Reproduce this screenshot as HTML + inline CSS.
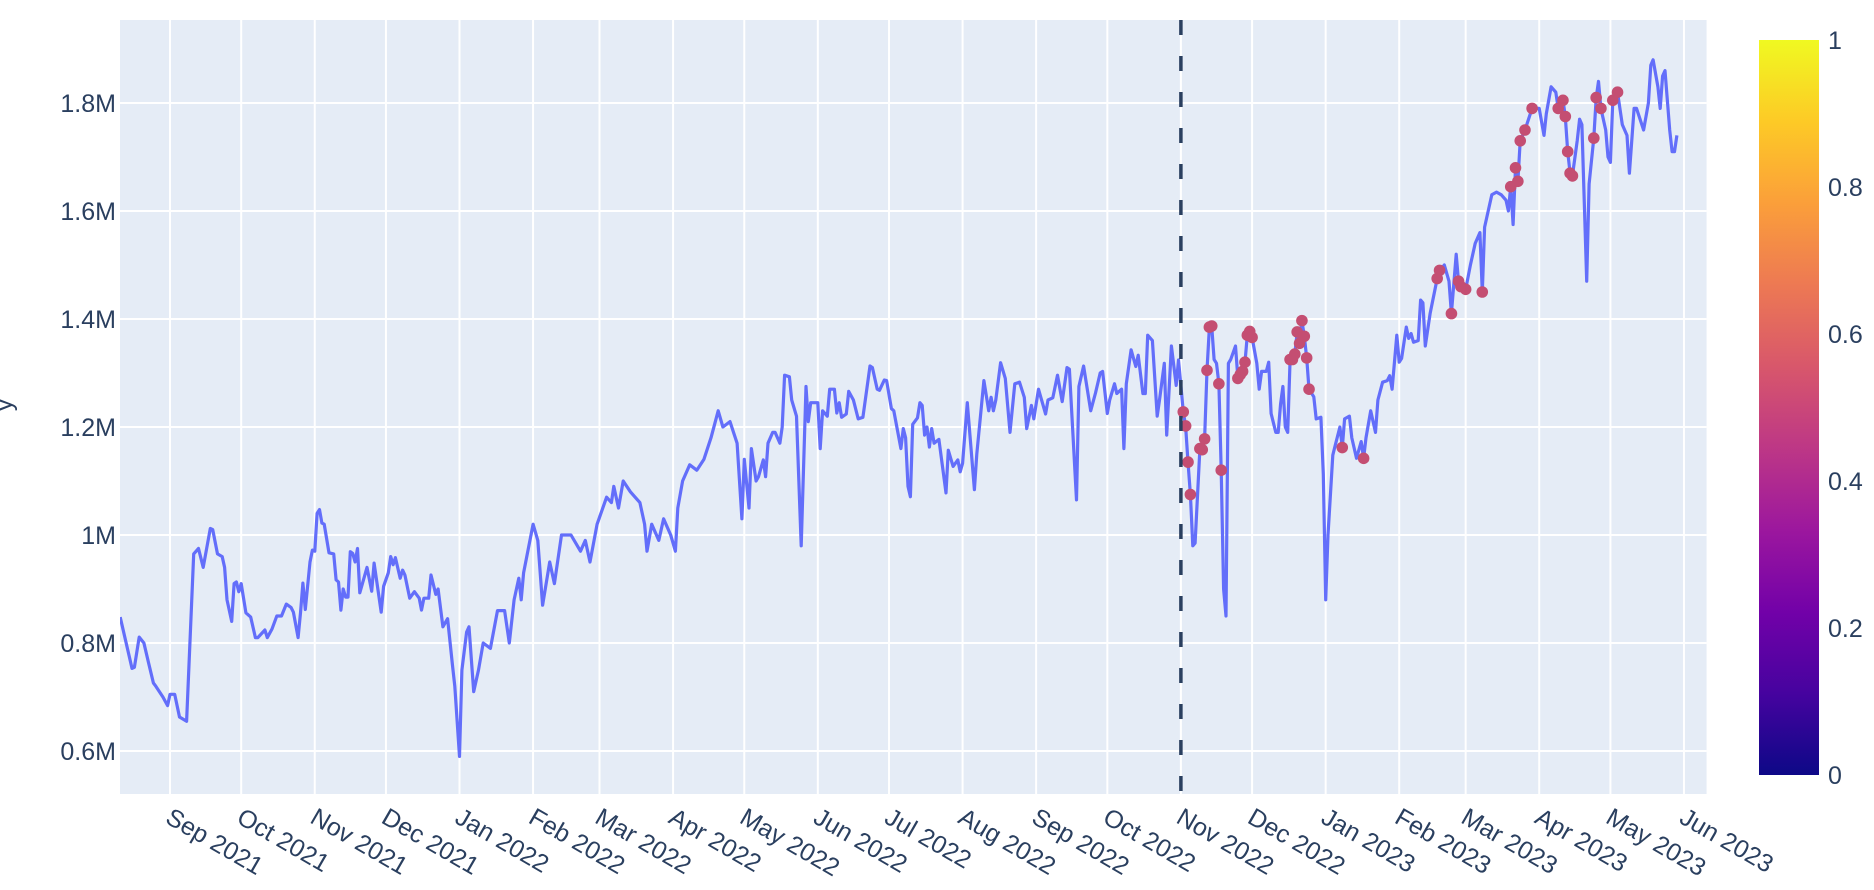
<!DOCTYPE html>
<html><head><meta charset="utf-8">
<style>
html,body{margin:0;padding:0;background:#fff;}
svg{display:block;font-family:"Liberation Sans",sans-serif;}
</style></head>
<body>
<svg id="chart" width="1874" height="890" viewBox="0 0 1874 890" xmlns="http://www.w3.org/2000/svg">
<defs>
<linearGradient id="plasma" x1="0" y1="1" x2="0" y2="0">
<stop offset="0" stop-color="#0d0887"/><stop offset="0.111" stop-color="#46039f"/><stop offset="0.222" stop-color="#7201a8"/><stop offset="0.333" stop-color="#9c179e"/><stop offset="0.444" stop-color="#bd3786"/><stop offset="0.556" stop-color="#d8576b"/><stop offset="0.667" stop-color="#ed7953"/><stop offset="0.778" stop-color="#fb9f3a"/><stop offset="0.889" stop-color="#fdca26"/><stop offset="1" stop-color="#f0f921"/>
</linearGradient>
<clipPath id="plotclip"><rect x="120" y="20" width="1586.6" height="774"/></clipPath>
</defs>
<rect x="120" y="20" width="1586.6" height="774" fill="#e5ecf6"/>
<g id="grid"></g>
<g id="yticks"></g>
<g id="xticks"></g>
<g clip-path="url(#plotclip)">
<path id="line" fill="none" stroke="#636efa" stroke-width="3.2" stroke-linejoin="round"/>
<g id="dots"></g>
<line id="vline" y1="20" y2="794" stroke="#2a3f5f" stroke-width="3.5" stroke-dasharray="15,21"/>
</g>
<text transform="translate(12,405) rotate(-90)" text-anchor="middle" font-size="25" fill="#2a3f5f">y</text>
<rect x="1759" y="40" width="60" height="735" fill="url(#plasma)"/>
<g id="cbticks"></g>
</svg>
<script>
const lineDates=["2021-08-11","2021-08-16","2021-08-17","2021-08-19","2021-08-21","2021-08-23","2021-08-25","2021-08-26","2021-08-29","2021-08-31","2021-09-01","2021-09-03","2021-09-05","2021-09-08","2021-09-11","2021-09-13","2021-09-15","2021-09-18","2021-09-19","2021-09-21","2021-09-23","2021-09-24","2021-09-25","2021-09-27","2021-09-28","2021-09-29","2021-09-30","2021-10-01","2021-10-03","2021-10-05","2021-10-07","2021-10-08","2021-10-11","2021-10-12","2021-10-14","2021-10-16","2021-10-18","2021-10-20","2021-10-22","2021-10-23","2021-10-25","2021-10-26","2021-10-27","2021-10-28","2021-10-30","2021-10-31","2021-11-01","2021-11-02","2021-11-03","2021-11-04","2021-11-05","2021-11-07","2021-11-09","2021-11-10","2021-11-11","2021-11-12","2021-11-13","2021-11-14","2021-11-15","2021-11-16","2021-11-17","2021-11-18","2021-11-19","2021-11-20","2021-11-23","2021-11-25","2021-11-26","2021-11-29","2021-11-30","2021-12-02","2021-12-03","2021-12-04","2021-12-05","2021-12-07","2021-12-08","2021-12-09","2021-12-11","2021-12-13","2021-12-15","2021-12-16","2021-12-17","2021-12-19","2021-12-20","2021-12-22","2021-12-23","2021-12-25","2021-12-27","2021-12-29","2021-12-30","2022-01-01","2022-01-02","2022-01-04","2022-01-05","2022-01-07","2022-01-09","2022-01-11","2022-01-14","2022-01-17","2022-01-20","2022-01-22","2022-01-24","2022-01-26","2022-01-27","2022-01-28","2022-02-01","2022-02-03","2022-02-05","2022-02-08","2022-02-10","2022-02-13","2022-02-17","2022-02-21","2022-02-23","2022-02-25","2022-02-28","2022-03-04","2022-03-06","2022-03-07","2022-03-09","2022-03-11","2022-03-14","2022-03-18","2022-03-20","2022-03-21","2022-03-23","2022-03-26","2022-03-28","2022-03-31","2022-04-02","2022-04-03","2022-04-05","2022-04-08","2022-04-11","2022-04-14","2022-04-17","2022-04-20","2022-04-22","2022-04-25","2022-04-28","2022-04-30","2022-05-01","2022-05-03","2022-05-04","2022-05-06","2022-05-07","2022-05-09","2022-05-10","2022-05-11","2022-05-13","2022-05-14","2022-05-16","2022-05-17","2022-05-18","2022-05-20","2022-05-21","2022-05-23","2022-05-25","2022-05-27","2022-05-28","2022-05-29","2022-06-01","2022-06-02","2022-06-03","2022-06-05","2022-06-06","2022-06-08","2022-06-09","2022-06-10","2022-06-11","2022-06-13","2022-06-14","2022-06-16","2022-06-18","2022-06-20","2022-06-23","2022-06-24","2022-06-26","2022-06-27","2022-06-29","2022-06-30","2022-07-02","2022-07-03","2022-07-06","2022-07-07","2022-07-08","2022-07-09","2022-07-10","2022-07-11","2022-07-13","2022-07-14","2022-07-15","2022-07-16","2022-07-17","2022-07-18","2022-07-19","2022-07-20","2022-07-22","2022-07-25","2022-07-26","2022-07-28","2022-07-30","2022-07-31","2022-08-01","2022-08-03","2022-08-06","2022-08-07","2022-08-10","2022-08-12","2022-08-13","2022-08-14","2022-08-15","2022-08-17","2022-08-19","2022-08-21","2022-08-23","2022-08-25","2022-08-27","2022-08-28","2022-08-30","2022-08-31","2022-09-02","2022-09-05","2022-09-06","2022-09-08","2022-09-10","2022-09-12","2022-09-14","2022-09-15","2022-09-18","2022-09-19","2022-09-21","2022-09-24","2022-09-26","2022-09-28","2022-09-29","2022-10-01","2022-10-02","2022-10-04","2022-10-05","2022-10-07","2022-10-08","2022-10-09","2022-10-11","2022-10-13","2022-10-14","2022-10-16","2022-10-17","2022-10-18","2022-10-20","2022-10-22","2022-10-23","2022-10-25","2022-10-26","2022-10-28","2022-10-30","2022-10-31","2022-11-02","2022-11-03","2022-11-04","2022-11-05","2022-11-06","2022-11-07","2022-11-09","2022-11-10","2022-11-11","2022-11-12","2022-11-13","2022-11-14","2022-11-15","2022-11-16","2022-11-17","2022-11-18","2022-11-19","2022-11-20","2022-11-21","2022-11-22","2022-11-24","2022-11-25","2022-11-26","2022-11-27","2022-11-28","2022-11-29","2022-11-30","2022-12-01","2022-12-03","2022-12-04","2022-12-05","2022-12-07","2022-12-08","2022-12-09","2022-12-11","2022-12-12","2022-12-13","2022-12-14","2022-12-15","2022-12-16","2022-12-17","2022-12-18","2022-12-19","2022-12-20","2022-12-21","2022-12-22","2022-12-23","2022-12-24","2022-12-25","2022-12-27","2022-12-28","2022-12-30","2022-12-31","2023-01-01","2023-01-02","2023-01-04","2023-01-05","2023-01-07","2023-01-08","2023-01-09","2023-01-11","2023-01-12","2023-01-14","2023-01-16","2023-01-17","2023-01-18","2023-01-20","2023-01-22","2023-01-23","2023-01-25","2023-01-27","2023-01-28","2023-01-29","2023-01-31","2023-02-01","2023-02-02","2023-02-04","2023-02-05","2023-02-06","2023-02-07","2023-02-09","2023-02-10","2023-02-11","2023-02-12","2023-02-14","2023-02-17","2023-02-18","2023-02-20","2023-02-22","2023-02-23","2023-02-25","2023-02-26","2023-02-27","2023-03-01","2023-03-03","2023-03-05","2023-03-07","2023-03-08","2023-03-09","2023-03-12","2023-03-14","2023-03-16","2023-03-18","2023-03-19","2023-03-20","2023-03-21","2023-03-22","2023-03-23","2023-03-24","2023-03-26","2023-03-29","2023-04-01","2023-04-03","2023-04-04","2023-04-06","2023-04-08","2023-04-09","2023-04-11","2023-04-12","2023-04-13","2023-04-14","2023-04-15","2023-04-17","2023-04-18","2023-04-19","2023-04-21","2023-04-22","2023-04-24","2023-04-25","2023-04-26","2023-04-27","2023-04-29","2023-04-30","2023-05-01","2023-05-02","2023-05-04","2023-05-06","2023-05-08","2023-05-09","2023-05-11","2023-05-12","2023-05-15","2023-05-17","2023-05-18","2023-05-19","2023-05-21","2023-05-22","2023-05-23","2023-05-24","2023-05-26","2023-05-27","2023-05-28","2023-05-29"];
const lineValues=[0.848,0.753,0.755,0.811,0.80,0.763,0.726,0.72,0.70,0.684,0.705,0.705,0.663,0.655,0.965,0.975,0.94,1.012,1.01,0.965,0.96,0.94,0.88,0.84,0.91,0.913,0.895,0.91,0.856,0.848,0.81,0.81,0.824,0.81,0.826,0.85,0.85,0.872,0.866,0.857,0.81,0.856,0.911,0.862,0.95,0.972,0.97,1.04,1.047,1.022,1.02,0.967,0.965,0.917,0.913,0.861,0.90,0.885,0.885,0.969,0.966,0.95,0.975,0.893,0.94,0.896,0.948,0.857,0.905,0.93,0.96,0.945,0.958,0.92,0.935,0.926,0.883,0.895,0.883,0.861,0.883,0.883,0.926,0.89,0.90,0.83,0.845,0.76,0.72,0.59,0.75,0.82,0.83,0.71,0.75,0.80,0.79,0.86,0.86,0.80,0.88,0.92,0.88,0.93,1.02,0.99,0.87,0.95,0.91,1.0,1.0,0.97,0.99,0.95,1.02,1.07,1.06,1.09,1.05,1.10,1.08,1.06,1.02,0.97,1.02,0.99,1.03,1.0,0.97,1.05,1.10,1.13,1.12,1.14,1.18,1.23,1.20,1.21,1.17,1.03,1.14,1.05,1.16,1.10,1.108,1.139,1.108,1.17,1.19,1.19,1.17,1.20,1.296,1.293,1.25,1.22,0.98,1.275,1.21,1.245,1.245,1.16,1.23,1.22,1.27,1.27,1.226,1.245,1.218,1.224,1.266,1.25,1.215,1.218,1.313,1.31,1.27,1.268,1.287,1.286,1.234,1.23,1.16,1.197,1.18,1.09,1.071,1.205,1.217,1.245,1.24,1.185,1.20,1.163,1.197,1.17,1.177,1.078,1.157,1.127,1.139,1.117,1.133,1.245,1.084,1.15,1.286,1.23,1.255,1.23,1.25,1.319,1.29,1.19,1.28,1.283,1.255,1.197,1.24,1.215,1.27,1.224,1.25,1.254,1.296,1.247,1.31,1.307,1.065,1.275,1.313,1.23,1.263,1.30,1.303,1.225,1.25,1.28,1.262,1.27,1.16,1.28,1.343,1.312,1.333,1.262,1.262,1.37,1.36,1.22,1.25,1.318,1.185,1.35,1.277,1.324,1.228,1.202,1.135,1.075,0.98,0.985,1.16,1.158,1.178,1.305,1.385,1.387,1.325,1.318,1.28,1.12,0.90,0.85,1.318,1.325,1.35,1.29,1.297,1.303,1.32,1.37,1.377,1.366,1.318,1.27,1.303,1.303,1.32,1.225,1.19,1.19,1.243,1.275,1.20,1.19,1.325,1.325,1.335,1.376,1.355,1.397,1.368,1.328,1.27,1.256,1.215,1.218,1.113,0.88,1.0,1.148,1.165,1.20,1.162,1.215,1.22,1.18,1.142,1.173,1.142,1.18,1.23,1.19,1.25,1.283,1.286,1.295,1.27,1.37,1.32,1.327,1.385,1.364,1.373,1.357,1.36,1.435,1.43,1.35,1.41,1.475,1.49,1.50,1.47,1.41,1.52,1.47,1.46,1.455,1.50,1.54,1.56,1.45,1.57,1.63,1.635,1.63,1.62,1.60,1.645,1.575,1.68,1.655,1.73,1.75,1.79,1.79,1.74,1.78,1.83,1.82,1.79,1.805,1.775,1.71,1.67,1.665,1.73,1.77,1.76,1.47,1.65,1.735,1.81,1.84,1.79,1.75,1.70,1.69,1.805,1.82,1.76,1.74,1.67,1.79,1.79,1.75,1.80,1.87,1.88,1.83,1.79,1.85,1.86,1.75,1.71,1.71,1.74];
const dotDates=["2022-11-02","2022-11-03","2022-11-04","2022-11-05","2022-11-09","2022-11-10","2022-11-11","2022-11-12","2022-11-13","2022-11-14","2022-11-17","2022-11-18","2022-11-25","2022-11-26","2022-11-27","2022-11-28","2022-11-29","2022-11-30","2022-12-01","2022-12-17","2022-12-18","2022-12-19","2022-12-20","2022-12-21","2022-12-22","2022-12-23","2022-12-24","2022-12-25","2023-01-08","2023-01-17","2023-02-17","2023-02-18","2023-02-23","2023-02-26","2023-02-27","2023-03-01","2023-03-08","2023-03-20","2023-03-22","2023-03-23","2023-03-24","2023-03-26","2023-03-29","2023-04-09","2023-04-11","2023-04-12","2023-04-13","2023-04-14","2023-04-15","2023-04-24","2023-04-25","2023-04-27","2023-05-02","2023-05-04"];
const dotValues=[1.228,1.202,1.135,1.075,1.16,1.158,1.178,1.305,1.385,1.387,1.28,1.12,1.29,1.297,1.303,1.32,1.37,1.377,1.366,1.325,1.325,1.335,1.376,1.355,1.397,1.368,1.328,1.27,1.162,1.142,1.475,1.49,1.41,1.47,1.46,1.455,1.45,1.645,1.68,1.655,1.73,1.75,1.79,1.79,1.805,1.775,1.71,1.67,1.665,1.735,1.81,1.79,1.805,1.82];
const yTickValues=[0.6,0.8,1.0,1.2,1.4,1.6,1.8];
const yTickLabels=["0.6M","0.8M","1M","1.2M","1.4M","1.6M","1.8M"];
const xTickDates=["2021-09-01","2021-10-01","2021-11-01","2021-12-01","2022-01-01","2022-02-01","2022-03-01","2022-04-01","2022-05-01","2022-06-01","2022-07-01","2022-08-01","2022-09-01","2022-10-01","2022-11-01","2022-12-01","2023-01-01","2023-02-01","2023-03-01","2023-04-01","2023-05-01","2023-06-01"];
const xTickLabels=["Sep 2021","Oct 2021","Nov 2021","Dec 2021","Jan 2022","Feb 2022","Mar 2022","Apr 2022","May 2022","Jun 2022","Jul 2022","Aug 2022","Sep 2022","Oct 2022","Nov 2022","Dec 2022","Jan 2023","Feb 2023","Mar 2023","Apr 2023","May 2023","Jun 2023"];
const cutoffDate="2022-11-01";
const cbTickValues=[0,0.2,0.4,0.6,0.8,1];
const cbTickLabels=["0","0.2","0.4","0.6","0.8","1"];

const NS="http://www.w3.org/2000/svg";
const PLOT={l:120,r:1706.6,t:20,b:794};
const REF=Date.UTC(2021,8,1);
function dayOf(s){const p=s.split("-");return (Date.UTC(+p[0],+p[1]-1,+p[2])-REF)/86400000;}
function xScale(s){return 170+2.373*dayOf(s);}
function yScale(v){return 103+(1.8-v)*540;}
function cbScale(v){return 775-v*735;}
function mk(tag,attrs,parent){const e=document.createElementNS(NS,tag);for(const k in attrs)e.setAttribute(k,attrs[k]);parent.appendChild(e);return e;}

const grid=document.getElementById("grid");
const yt=document.getElementById("yticks");
yTickValues.forEach((v,i)=>{
  const y=yScale(v);
  const gl=mk("line",{x1:PLOT.l,x2:PLOT.r,y1:y,y2:y,stroke:"#fff","stroke-width":2},grid);
  
  
  const t=mk("text",{x:116,y:y+9,"text-anchor":"end","font-size":25,fill:"#2a3f5f"},yt);
  t.textContent=yTickLabels[i];
  
  
});
const xt=document.getElementById("xticks");
xTickDates.forEach((d,i)=>{
  const x=xScale(d);
  const gl=mk("line",{x1:x,x2:x,y1:PLOT.t,y2:PLOT.b,stroke:"#fff","stroke-width":2},grid);
  
  
  const t=mk("text",{transform:"translate("+(x-6)+",822) rotate(30)","text-anchor":"start","font-size":25,fill:"#2a3f5f"},xt);
  t.textContent=xTickLabels[i];
  
  
});
let dpath="";
lineDates.forEach((d,i)=>{dpath+=(i?"L":"M")+xScale(d).toFixed(1)+","+yScale(lineValues[i]).toFixed(1);});
document.getElementById("line").setAttribute("d",dpath);
const dots=document.getElementById("dots");
dotDates.forEach((d,i)=>{
  const c=mk("circle",{cx:xScale(d),cy:yScale(dotValues[i]),r:5.8,fill:"#c44e72"},dots);
  
  
});
const vl=document.getElementById("vline");
vl.setAttribute("x1",xScale(cutoffDate));vl.setAttribute("x2",xScale(cutoffDate));
const cb=document.getElementById("cbticks");
cbTickValues.forEach((v,i)=>{
  const t=mk("text",{x:1828,y:cbScale(v)+9,"font-size":25,fill:"#2a3f5f"},cb);
  t.textContent=cbTickLabels[i];
  
  
});
</script>
</body></html>
